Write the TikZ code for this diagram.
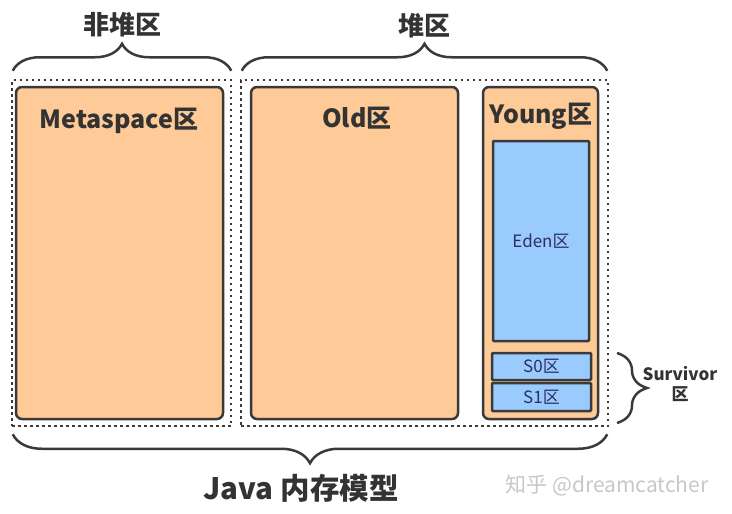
\documentclass[tikz,border=0pt]{standalone}
\usepackage{fontspec}
\setmainfont{Noto Sans CJK SC}
\usetikzlibrary{decorations.pathreplacing,positioning}

\definecolor{peach}{HTML}{FDCA98}
\definecolor{skyblue}{HTML}{99CBFE}
\definecolor{edge}{HTML}{3A3A3A}
\definecolor{ink}{HTML}{333333}

\begin{document}
\begin{tikzpicture}[x=1pt,y=-1pt,
    area/.style={draw=edge,line width=2.5pt,rounded corners=6pt,fill=peach},
    zone/.style={draw=edge,line width=2.5pt,rounded corners=1pt,fill=skyblue},
    region/.style={draw=edge,line width=2.5pt,dash pattern=on 2.5pt off 3.5pt},
    curly/.style={draw=edge,line width=2.5pt,decorate,decoration={brace,amplitude=#1}},
    headline/.style={text=ink,font=\bfseries\fontsize{26}{30}\selectfont},
    areaname/.style={text=ink,font=\bfseries\fontsize{25}{28}\selectfont},
    zonename/.style={text=edge!80!blue,font=\fontsize{17}{20}\selectfont,inner sep=0pt}]
        \useasboundingbox (0,0) rectangle (732,514);

        % 两个虚线区域
        \node[region,minimum width=219pt,minimum height=346pt] (nonheap) at (121.5,253) {};
        \node[region,minimum width=367pt,minimum height=346pt] (heap) at (424.5,253) {};

        % 各个区
        \node[area,minimum width=207pt,minimum height=332pt] (meta) at (119.5,253) {};
        \node[area,minimum width=207pt,minimum height=332pt] (old) at (354.5,253) {};
        \node[area,minimum width=115pt,minimum height=332pt] (young) at (540.5,253) {};
        \node[zone,minimum width=96pt,minimum height=200pt] (eden) at (541,241) {};
        \node[zone,minimum width=99pt,minimum height=27pt] (s0) at (541.5,366.5) {};
        \node[zone,minimum width=99pt,minimum height=28pt] (s1) at (541.5,397) {};

        % 区的名字
        \node[areaname] (metaname) at (119,121) {Metaspace区};
        \node[areaname] (oldname) at (357,118) {Old区};
        \node[areaname] (youngname) at (541,116) {Young区};
        \node[zonename] (edenname) at (eden.center) {Eden区};
        \node[zonename] (s0name) at (s0.center) {S0区};
        \node[zonename] (s1name) at (s1.center) {S1区};

        % 大括号
        \draw[curly=27pt] ([xshift=2pt,yshift=8pt]nonheap.north west) -- ([xshift=-1pt,yshift=8pt]nonheap.north east);
        \draw[curly=27pt] ([xshift=2pt,yshift=8pt]heap.north west) -- ([xshift=-2pt,yshift=8pt]heap.north east);
        \draw[curly=30pt] (617,353) -- (617,423);
        \draw[curly=29pt] ([xshift=-2pt,yshift=-7pt]heap.south east) -- ([xshift=2pt,yshift=-7pt]nonheap.south west);

        % 标签
        \node[headline] (nonheaptitle) at (122,25) {非堆区};
        \node[headline] (heaptitle) at (424,26) {堆区};
        \node[text=ink,font=\bfseries\fontsize{17}{20}\selectfont,align=center] (survivor) at (680,384) {Survivor\\区};
        \node[headline,font=\bfseries\fontsize{29.5}{33}\selectfont] (model) at (301,488) {Java 内存模型};
        \node[text=black!22,font=\fontsize{21}{24}\selectfont] (mark) at (607,485) {知乎 @dreamcatcher};
    \end{tikzpicture}
\end{document}
